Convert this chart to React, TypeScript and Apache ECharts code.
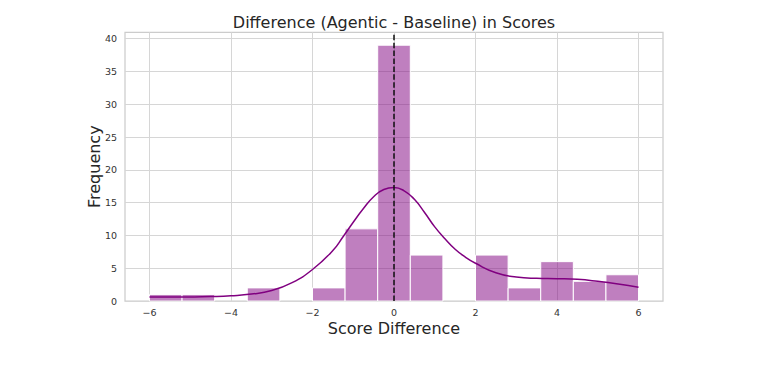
import React, { useEffect, useRef } from "react";
import * as echarts from "echarts";

const titleText = "Difference (Agentic - Baseline) in Scores";
const xLabel = "Score Difference";
const yLabel = "Frequency";

const binEdges = [-6, -5.2, -4.4, -3.6, -2.8, -2, -1.2, -0.4, 0.4, 1.2, 2, 2.8, 3.6, 4.4, 5.2, 6];
const binCounts = [1, 1, 0, 2, 0, 2, 11, 39, 7, 0, 7, 2, 6, 3, 4];

const kdeX = [-6, -5.5, -5, -4.5, -4, -3.5, -3, -2.5, -2, -1.5, -1.25, -1, -0.75, -0.5, -0.25, 0, 0.25, 0.5, 0.75, 1, 1.25, 1.5, 1.75, 2, 2.5, 3, 3.5, 4, 4.5, 5, 5.5, 6];
const kdeY = [0.6, 0.6, 0.62, 0.68, 0.8, 1.05, 1.6, 2.8, 4.8, 7.7, 9.8, 12.0, 14.1, 15.9, 17.0, 17.3, 16.8, 15.5, 13.5, 11.3, 9.5, 7.9, 6.7, 5.75, 4.3, 3.65, 3.45, 3.4, 3.3, 3.0, 2.6, 2.1];

const xTicks = [-6, -4, -2, 0, 2, 4, 6];
const yTicks = [0, 5, 10, 15, 20, 25, 30, 35, 40];
const xRange = [-6.6, 6.6];
const yRange = [0, 40.95];
const refLineX = 0;

const FONT = "DejaVu Sans";

export default function App() {
  const ref = useRef<HTMLDivElement>(null);
  useEffect(() => {
    document.body.style.margin = "0";
    if (!ref.current) return;
    const chart = echarts.init(ref.current, null, { renderer: "svg" });

    const barData = binCounts.map((c, i) => [binEdges[i], binEdges[i + 1], c]);
    const kdeData = kdeX.map((x, i) => [x, kdeY[i]]);

    const gridLineData: any[] = [
      ...xTicks.map((v) => ({ xAxis: v })),
      ...yTicks.map((v) => ({ yAxis: v })),
    ];

    const option: any = {
      animation: false,
      backgroundColor: "#ffffff",
      graphic: [
        {
          type: "text",
          x: 394,
          y: 22,
          style: {
            text: titleText,
            align: "center",
            verticalAlign: "middle",
            fontFamily: FONT,
            fontSize: 16,
            fill: "#262626",
          },
        },
      ],
      grid: {
        left: 125,
        top: 32.4,
        width: 538,
        height: 268.6,
        show: true,
        borderColor: "#cccccc",
        borderWidth: 1.25,
        backgroundColor: "transparent",
      },
      xAxis: {
        type: "value",
        min: xRange[0],
        max: xRange[1],
        name: xLabel,
        nameLocation: "middle",
        nameGap: 19,
        nameMoveOverlap: false,
        nameTextStyle: { fontFamily: FONT, fontSize: 16, color: "#262626" },
        axisLine: { show: false },
        axisTick: { show: false },
        splitLine: { show: false },
        axisLabel: {
          customValues: xTicks,
          margin: 6,
          fontFamily: FONT,
          fontSize: 9.5,
          color: "#333333",
          formatter: (v: number) => String(v).replace("-", "\u2212"),
        },
      },
      yAxis: {
        type: "value",
        min: yRange[0],
        max: yRange[1],
        interval: 5,
        name: yLabel,
        nameLocation: "middle",
        nameGap: 23,
        nameMoveOverlap: false,
        nameTextStyle: { fontFamily: FONT, fontSize: 16, color: "#262626" },
        axisLine: { show: false },
        axisTick: { show: false },
        splitLine: { show: false },
        axisLabel: {
          customValues: yTicks,
          margin: 8,
          fontFamily: FONT,
          fontSize: 9.5,
          color: "#333333",
        },
      },
      series: [
        {
          type: "line",
          data: [],
          z: 1,
          silent: true,
          markLine: {
            silent: true,
            z: 1,
            symbol: ["none", "none"],
            label: { show: false },
            lineStyle: { color: "#d6d6d6", width: 1, type: "solid" },
            emphasis: { disabled: true },
            data: gridLineData,
          },
        },
        {
          type: "custom",
          z: 2,
          silent: true,
          data: barData,
          encode: { x: [0, 1], y: 2 },
          renderItem: (params: any, api: any) => {
            const x0 = api.value(0);
            const x1 = api.value(1);
            const h = api.value(2);
            if (!h) return null;
            const p0 = api.coord([x0, h]);
            const p1 = api.coord([x1, 0]);
            return {
              type: "rect",
              shape: { x: p0[0], y: p0[1], width: p1[0] - p0[0], height: p1[1] - p0[1] },
              style: { fill: "rgba(128,0,128,0.5)", stroke: "#ffffff", lineWidth: 1 },
            };
          },
        },
        {
          type: "line",
          z: 3,
          silent: true,
          data: kdeData,
          smooth: 0.5,
          showSymbol: false,
          symbol: "none",
          lineStyle: { color: "#800080", width: 1.5 },
          markLine: {
            silent: true,
            z: 4,
            symbol: ["none", "none"],
            label: { show: false },
            lineStyle: { color: "#111111", width: 1.5, type: [5.5, 2.4] },
            emphasis: { disabled: true },
            data: [{ xAxis: refLineX }],
          },
        },
      ],
    };

    chart.setOption(option);
    return () => chart.dispose();
  }, []);

  return <div ref={ref} style={{ width: 768, height: 366 }} />;
}
